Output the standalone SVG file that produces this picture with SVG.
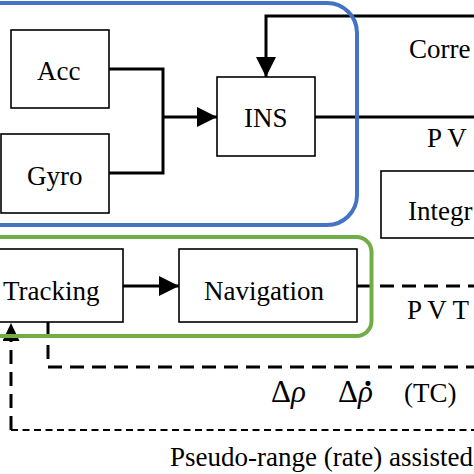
<svg xmlns="http://www.w3.org/2000/svg" width="474" height="474" viewBox="0 0 474 474">
<style>
.box{fill:#fff;stroke:#000;stroke-width:1.6}
.t{font-family:"Liberation Serif","Times New Roman",serif;font-size:27px;fill:#000}
.g{font-family:"Liberation Serif","Times New Roman",serif;font-size:31px;fill:#000}
.c{fill:none;stroke:#000;stroke-width:3}
.d{fill:none;stroke:#000;stroke-width:3;stroke-dasharray:14 8}
.fd{fill:none;stroke:#000;stroke-width:2;stroke-dasharray:7 4.5}
</style>
<defs>
<marker id="ah" markerUnits="userSpaceOnUse" markerWidth="20" markerHeight="20" refX="20" refY="10" orient="auto">
<path d="M0,0 L20,10 L0,20 z" fill="#000"/>
</marker>
<marker id="ahs" markerUnits="userSpaceOnUse" markerWidth="18" markerHeight="17" refX="18" refY="8.5" orient="auto">
<path d="M0,0 L18,8.5 L0,17 z" fill="#000"/>
</marker>
</defs>
<rect width="474" height="474" fill="#fff"/>
<g id="connectors">
<path class="c" d="M474,16 H266 V77" marker-end="url(#ah)"/>
<path class="c" d="M109,69 H163 V173 H109"/>
<path class="c" d="M163,117 H217" marker-end="url(#ah)"/>
<path class="c" d="M315,117 H474"/>
<path class="c" d="M123,286 H179" marker-end="url(#ah)"/>
<path class="c" d="M357,286 H370"/>
<path class="d" d="M380,286 H474"/>
<path class="c" d="M48,322 V336"/>
<path class="d" d="M48,345 V367 H474"/>
<path class="d" d="M11,430 V323" marker-end="url(#ahs)"/>
<path class="fd" d="M11,430 H474"/>
</g>
<g id="ins-group">
<rect x="-30" y="3" width="387" height="222" rx="30" fill="none" stroke="#4472C4" stroke-width="4"/>
</g>
<g id="gnss-group">
<rect x="-20" y="237" width="391.5" height="99" rx="15" fill="none" stroke="#70AD47" stroke-width="4"/>
</g>
<g id="acc"><rect class="box" x="11" y="30" width="98" height="78"/><text class="t" x="37" y="80">Acc</text></g>
<g id="gyro"><rect class="box" x="1" y="134" width="108" height="79"/><text class="t" x="27" y="185">Gyro</text></g>
<g id="ins"><rect class="box" x="217" y="77" width="98" height="79"/><text class="t" x="244" y="127">INS</text></g>
<g id="integr"><rect class="box" x="381" y="171" width="120" height="67"/><text class="t" x="408" y="220">Integr</text></g>
<g id="tracking"><rect class="box" x="-10" y="249" width="133" height="73"/><text class="t" x="3" y="300">Tracking</text></g>
<g id="navigation"><rect class="box" x="179" y="249" width="178" height="73"/><text class="t" x="204" y="300">Navigation</text></g>
<g id="labels">
<text class="t" x="409" y="58">Corre</text>
<text class="t" x="427" y="147">P V</text>
<text class="t" x="407" y="319">P V T</text>
<text class="g" x="271" y="402">Δ<tspan font-style="italic">ρ</tspan></text>
<text class="g" x="338" y="402">Δ<tspan font-style="italic">ρ</tspan><tspan dx="-10" dy="-8" font-weight="bold">·</tspan></text>
<text class="t" x="404" y="402">(TC)</text>
<text class="t" x="170" y="466">Pseudo-range (rate) assisted</text>
</g>
</svg>
